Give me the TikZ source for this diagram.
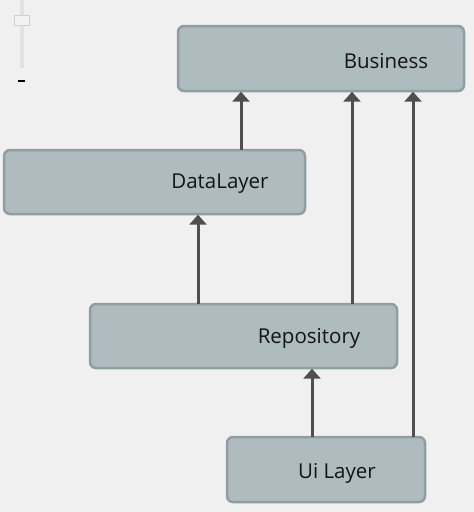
\documentclass[tikz,border=0pt]{standalone}
\usepackage{fontspec}
\setmainfont{Open Sans}
\usetikzlibrary{arrows.meta}
\definecolor{bgc}{HTML}{F0F0F0}
\definecolor{boxfill}{HTML}{AEBBBF}
\definecolor{boxline}{HTML}{8E9EA3}
\definecolor{arrowc}{HTML}{4F4F4F}
\definecolor{slidec}{HTML}{E2E2E2}
\definecolor{slideline}{HTML}{D0D0D0}
\definecolor{textc}{HTML}{141414}
\tikzset{
  layerbox/.style={draw=boxline, fill=boxfill, line width=2.5pt, rounded corners=6pt},
  layertext/.style={font=\fontsize{20.5}{24}\selectfont, text=textc, inner sep=0pt},
  dep/.style={draw=arrowc, line width=3pt, -{Triangle[width=17pt,length=10pt]}, shorten >=0.5pt},
}
\begin{document}
\begin{tikzpicture}[x=1pt,y=-1pt]
\useasboundingbox (0,0) rectangle (474,512);
\fill[bgc] (0,0) rectangle (474,512);
% slider artifact
\fill[slidec] (20,0) rectangle (24,68);
\draw[slideline, fill=white!95!black, line width=0.8pt] (14.5,15) rectangle (29.5,25);
\draw[black, line width=1.2pt] (18,81) -- (25,81);
% boxes
\draw[layerbox] (178,26) rectangle (464,91);
\node[minimum width=286pt, minimum height=65pt, inner sep=0pt] (business) at (321,58.5) {};
\draw[layerbox] (4,150) rectangle (305,214);
\node[minimum width=301pt, minimum height=64pt, inner sep=0pt] (data) at (154.5,182) {};
\draw[layerbox] (90,304) rectangle (397,368);
\node[minimum width=307pt, minimum height=64pt, inner sep=0pt] (repo) at (243.5,336) {};
\draw[layerbox] (227,437) rectangle (425,502);
\node[minimum width=198pt, minimum height=65pt, inner sep=0pt] (ui) at (326,469.5) {};
% labels
\node[layertext] (tb) at (386,61) {Business};
\node[layertext] (td) at (220,184) {DataLayer};
\node[layertext] (tr) at (309,338) {Repository};
\node[layertext] (tu) at (337,473) {Ui Layer};
% dependencies
\draw[dep] (data.north -| 241,0) -- (business.south -| 241,0);
\draw[dep] (repo.north -| 352,0) -- (business.south -| 352,0);
\draw[dep] (ui.north -| 413,0) -- (business.south -| 413,0);
\draw[dep] (repo.north -| 198,0) -- (data.south -| 198,0);
\draw[dep] (ui.north -| 312,0) -- (repo.south -| 312,0);
\end{tikzpicture}
\end{document}
